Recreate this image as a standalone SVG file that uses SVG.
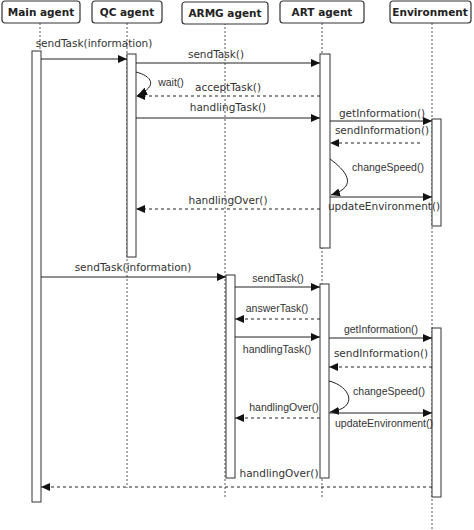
<svg xmlns="http://www.w3.org/2000/svg" width="474" height="530" viewBox="0 0 474 530">
<style>
.hd{fill:#fff;stroke:#333;stroke-width:1.2}
.ht{font-family:"DejaVu Sans",sans-serif;font-weight:bold;font-size:10.5px;fill:#222;text-anchor:middle}
.ll{stroke:#555;stroke-width:1;stroke-dasharray:2,2;fill:none}
.bar{fill:#fff;stroke:#333;stroke-width:1}
.m{stroke:#222;stroke-width:1;fill:none;marker-end:url(#arr)}
.r{stroke:#222;stroke-width:1;fill:none;stroke-dasharray:3,3;marker-end:url(#arr)}
.t{font-family:"DejaVu Sans",sans-serif;font-size:10.5px;fill:#333;text-anchor:middle}
.a{font-family:"Liberation Sans",Arial,sans-serif;font-size:10.5px;fill:#333;text-anchor:middle}
</style>
<defs>
<marker id="arr" markerWidth="9" markerHeight="8" refX="9" refY="4" orient="auto" markerUnits="userSpaceOnUse">
<path d="M0,0 L9,4 L0,8 Z" fill="#111"/>
</marker>
</defs>
<rect width="474" height="530" fill="#fff"/>

<g id="main-agent">
<line class="ll" x1="40" y1="23" x2="40" y2="51"/>
<rect class="hd" x="2" y="1" width="78" height="22" rx="3"/>
<text class="ht" x="41" y="16">Main agent</text>
<rect class="bar" x="32" y="51" width="9" height="451"/>
</g>

<g id="qc-agent">
<line class="ll" x1="127" y1="23" x2="127" y2="488"/>
<rect class="hd" x="92" y="1" width="70" height="22" rx="3"/>
<text class="ht" x="127" y="16">QC agent</text>
<rect class="bar" x="127" y="54" width="9" height="203"/>
</g>

<g id="armg-agent">
<line class="ll" x1="225" y1="23" x2="225" y2="498"/>
<rect class="hd" x="182" y="2" width="86" height="22" rx="3"/>
<text class="ht" x="225" y="17">ARMG agent</text>
<rect class="bar" x="226" y="275" width="9" height="203"/>
</g>

<g id="art-agent">
<line class="ll" x1="322" y1="23" x2="322" y2="498"/>
<rect class="hd" x="280" y="1" width="84" height="22" rx="3"/>
<text class="ht" x="322" y="16">ART agent</text>
<rect class="bar" x="320" y="54" width="10" height="194"/>
<rect class="bar" x="320" y="284" width="9" height="194"/>
</g>

<g id="environment">
<line class="ll" x1="432" y1="23" x2="432" y2="530"/>
<rect class="hd" x="390" y="1" width="81" height="22" rx="3"/>
<text class="ht" x="430" y="16">Environment</text>
<rect class="bar" x="432" y="119" width="9" height="107"/>
<rect class="bar" x="432" y="328" width="9" height="169"/>
</g>

<g id="connectors">
<line class="m" x1="41" y1="59" x2="127" y2="59"/>
<line class="m" x1="136" y1="63" x2="320" y2="63"/>
<path class="m" d="M136,72 C152,76 158,86 138,95"/>
<line class="r" x1="320" y1="96" x2="136" y2="96"/>
<line class="m" x1="136" y1="118" x2="320" y2="118"/>
<line class="m" x1="330" y1="121" x2="432" y2="121"/>
<line class="r" x1="420" y1="143" x2="330" y2="143"/>
<path class="m" d="M330,159 C345,170 360,186 331,195"/>
<line class="m" x1="330" y1="197" x2="432" y2="197"/>
<line class="r" x1="320" y1="209" x2="136" y2="209"/>

<line class="m" x1="41" y1="277" x2="226" y2="277"/>
<line class="m" x1="235" y1="287" x2="320" y2="287"/>
<line class="r" x1="320" y1="319" x2="235" y2="319"/>
<line class="m" x1="235" y1="337" x2="320" y2="337"/>
<line class="m" x1="329" y1="338" x2="432" y2="338"/>
<line class="r" x1="432" y1="367" x2="329" y2="367"/>
<path class="m" d="M329,381 C350,386 360,408 330,412"/>
<line class="m" x1="329" y1="413" x2="432" y2="413"/>
<line class="r" x1="320" y1="418" x2="235" y2="418"/>
<line class="r" x1="432" y1="487" x2="41" y2="487"/>
</g>

<g id="labels">
<text class="t" x="94" y="47">sendTask(information)</text>
<text class="t" x="216" y="58">sendTask()</text>
<text class="a" x="171" y="86">wait()</text>
<text class="t" x="228" y="91">acceptTask()</text>
<text class="t" x="228" y="111">handlingTask()</text>
<text class="t" x="382" y="117">getInformation()</text>
<text class="t" x="382" y="134">sendInformation()</text>
<text class="a" x="388" y="171">changeSpeed()</text>
<text class="t" x="384" y="210">updateEnvironment()</text>
<text class="t" x="228" y="204">handlingOver()</text>

<text class="t" x="133" y="271">sendTask(information)</text>
<text class="a" x="278" y="282">sendTask()</text>
<text class="a" x="277" y="312">answerTask()</text>
<text class="a" x="277" y="353">handlingTask()</text>
<text class="a" x="381" y="333">getInformation()</text>
<text class="t" x="381" y="357">sendInformation()</text>
<text class="a" x="389" y="395">changeSpeed()</text>
<text class="a" x="384" y="427">updateEnvironment()</text>
<text class="a" x="284" y="411">handlingOver()</text>
<text class="t" x="279" y="477">handlingOver()</text>
</g>
</svg>
